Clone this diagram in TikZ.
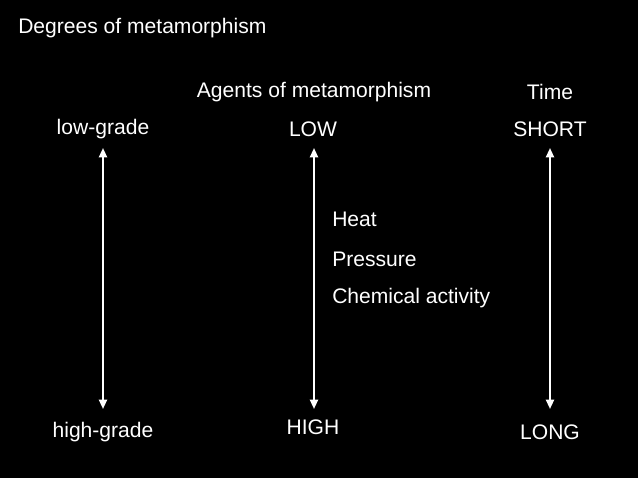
\documentclass[tikz,border=0pt]{standalone}
\usepackage{fontspec}
\setmainfont{Liberation Sans}
\usetikzlibrary{arrows.meta}
\begin{document}
\begin{tikzpicture}[x=0.75pt,y=-0.75pt,
  lbl/.style={text=white,font=\fontsize{15.8}{18}\selectfont,inner sep=0pt},
  gradearrow/.style={draw=white,line width=1.5pt,{Triangle[length=7pt,width=6pt]}-{Triangle[length=7pt,width=6pt]}}]
\fill[black] (0,0) rectangle (638,478);
\useasboundingbox (0,0) rectangle (638,478);
\node[lbl,anchor=west] (title) at (18,28) {Degrees of metamorphism};
\node[lbl] (agents) at (314,92) {Agents of metamorphism};
\node[lbl] (time) at (550,92) {Time};
\node[lbl] (lg) at (103,129) {low-grade};
\node[lbl] (low) at (313,129) {LOW};
\node[lbl] (short) at (550,129) {SHORT};
\node[lbl] (hg) at (103,432) {high-grade};
\node[lbl] (high) at (313,427) {HIGH};
\node[lbl] (long) at (550,432) {LONG};
\node[lbl,anchor=west] (heat) at (332,219) {Heat};
\node[lbl,anchor=west] (press) at (332,259) {Pressure};
\node[lbl,anchor=west] (chem) at (332,298) {Chemical activity};
\coordinate (a1) at (103,148); \coordinate (b1) at (103,409);
\coordinate (a2) at (314,148); \coordinate (b2) at (314,409);
\coordinate (a3) at (550,148); \coordinate (b3) at (550,409);
\draw[gradearrow] (a1) -- (b1);
\draw[gradearrow] (a2) -- (b2);
\draw[gradearrow] (a3) -- (b3);
\end{tikzpicture}
\end{document}
